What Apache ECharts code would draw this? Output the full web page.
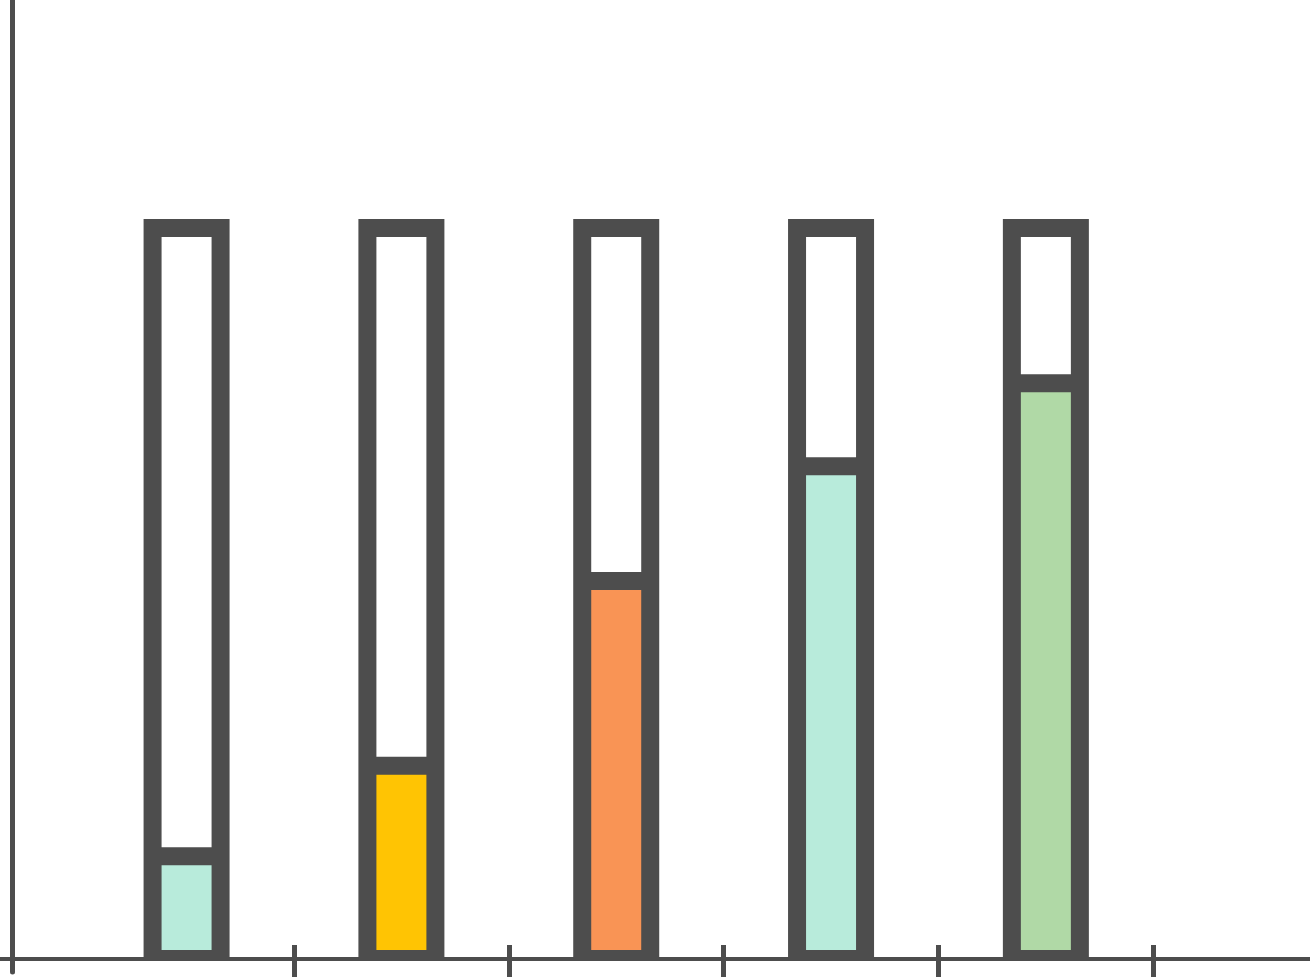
<!DOCTYPE html>
<html>
<head>
<meta charset="utf-8">
<script src="https://cdn.jsdelivr.net/npm/echarts@6/dist/echarts.min.js"></script>
<style>
html,body{margin:0;padding:0;background:#fff;}
#chart{width:1310px;height:980px;}
</style>
</head>
<body>
<div id="chart"></div>
<script>
// Data
const categories = ['A', 'B', 'C', 'D', 'E'];
const fillValues = [13.9, 26.1, 51.1, 66.6, 77.8];
const totalValues = [100, 100, 100, 100, 100];
const fillColors = ['#b8ebdb', '#ffc403', '#f99455', '#b8ebdb', '#b0d9a6'];
const tickValues = [1, 2, 3, 4, 5];

const dark = '#4d4d4d';
const BAR_W = 86, BORDER = 18;
const xs = categories.map((c, i) => i + 0.5);

const chart = echarts.init(document.getElementById('chart'), null, {renderer: 'canvas'});
const xMin = -0.3685, xMax = 5.7295;

function renderBar(params, api) {
  const x = api.value(0);
  const base = api.coord([x, 0]);
  const top = api.coord([x, api.value(2)]);
  const div = api.coord([x, api.value(1)]);
  const cx = base[0];
  const left = cx - BAR_W / 2;
  const innerLeft = left + BORDER;
  const innerW = BAR_W - 2 * BORDER;
  const half = BORDER / 2;
  return {
    type: 'group',
    children: [
      {type: 'rect', shape: {x: left, y: top[1], width: BAR_W, height: base[1] - top[1]}, style: {fill: dark}},
      {type: 'rect', shape: {x: innerLeft, y: top[1] + BORDER, width: innerW, height: (div[1] - half) - (top[1] + BORDER)}, style: {fill: '#ffffff'}},
      {type: 'rect', shape: {x: innerLeft, y: div[1] + half, width: innerW, height: (base[1] - half) - (div[1] + half)}, style: {fill: fillColors[params.dataIndex]}}
    ]
  };
}

chart.setOption({
  animation: false,
  backgroundColor: '#ffffff',
  grid: [
    {left: 0, right: 0, top: 0, bottom: 21},
    {left: 12, right: 0, top: 0, bottom: 8}
  ],
  xAxis: [
    {
      type: 'value', gridIndex: 0, position: 'bottom', min: xMin, max: xMax,
      axisLine: {show: true, lineStyle: {color: dark, width: 4}},
      axisTick: {show: true, inside: true, length: 14, customValues: tickValues, lineStyle: {color: dark, width: 5}},
      axisLabel: {show: false}, splitLine: {show: false}
    },
    {
      type: 'value', gridIndex: 0, position: 'bottom', min: xMin, max: xMax,
      axisLine: {show: false},
      axisTick: {show: true, inside: false, length: 18, customValues: tickValues, lineStyle: {color: dark, width: 5}},
      axisLabel: {show: false}, splitLine: {show: false}
    },
    {type: 'value', gridIndex: 1, show: false}
  ],
  yAxis: [
    {type: 'value', gridIndex: 0, min: 0, max: 129.6, show: false},
    {
      type: 'value', gridIndex: 1, position: 'left',
      axisLine: {show: true, onZero: false, lineStyle: {color: dark, width: 5}},
      axisTick: {show: false}, axisLabel: {show: false}, splitLine: {show: false}
    }
  ],
  series: [
    {
      type: 'custom', name: 'bars', xAxisIndex: 0, yAxisIndex: 0, clip: false,
      renderItem: renderBar,
      encode: {x: 0, y: [1, 2]},
      data: categories.map((c, i) => [xs[i], fillValues[i], totalValues[i]])
    }
  ]
});
</script>
</body>
</html>
